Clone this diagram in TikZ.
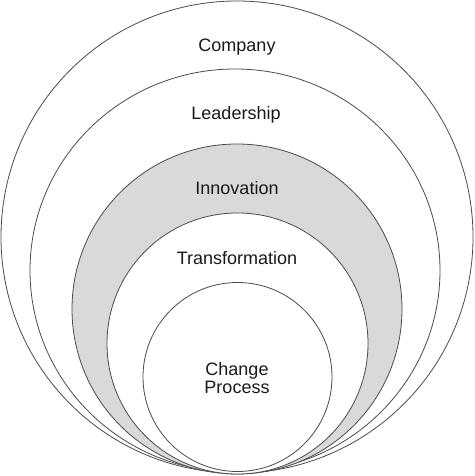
\documentclass[tikz,border=0pt]{standalone}
\usepackage{fontspec}
\setmainfont{Liberation Sans}
\definecolor{ringline}{HTML}{4A4A4A}
\definecolor{ringfill}{HTML}{D9D9D9}
\tikzset{
  ring/.style={draw=ringline, line width=0.8pt},
  lbl/.style={font=\fontsize{18}{19}\selectfont, text=black!90, align=center, inner sep=0pt}
}
\begin{document}
\begin{tikzpicture}[x=1pt,y=1pt]
\useasboundingbox (0,0) rectangle (474,476);
\fill[white] (0,0) rectangle (474,476);
\draw[ring, fill=white] (237,239) circle [radius=236];
\draw[ring, fill=white] (235,205.5) ellipse [x radius=205, y radius=201.5];
\draw[ring, fill=ringfill] (237,167) circle [radius=165];
\draw[ring, fill=white] (237.5,132.5) circle [radius=130.5];
\draw[ring, fill=white] (237.5,99) circle [radius=94.5];
\node[lbl] (company) at (237,429) {Company};
\node[lbl] (leadership) at (236,361) {Leadership};
\node[lbl] (innovation) at (237,288) {Innovation};
\node[lbl] (transformation) at (237,218) {Transformation};
\node[lbl] (change) at (237,98) {Change\\[-1pt]Process};
\end{tikzpicture}
\end{document}
